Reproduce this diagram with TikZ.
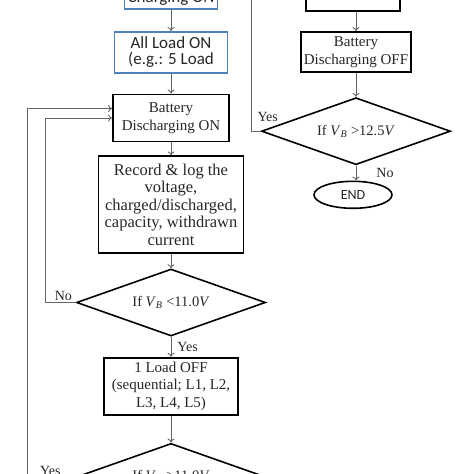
\documentclass[tikz,border=0pt]{standalone}
\usepackage{fontspec}
\setmainfont{Liberation Serif}
\newfontfamily\calfont{Carlito}
\usepackage{tikz}
\usetikzlibrary{shapes.geometric, arrows.meta, positioning, calc}
\definecolor{boxblue}{RGB}{79,129,189}
\definecolor{flgray}{RGB}{100,100,100}
\tikzset{
  sbox/.style={rectangle, draw=boxblue, line width=1.6pt, align=center,
               inner sep=1pt, text=black!85, font=\calfont\fontsize{17}{16}\selectfont},
  tbox/.style={rectangle, draw=black, line width=1.8pt, align=center,
               inner sep=1pt, text=black!85, font=\fontsize{15}{17.5}\selectfont},
  dec/.style={diamond, aspect=2.8, draw=black, line width=1.6pt, minimum width=189pt,
              minimum height=67pt, inner sep=0pt, text=black!85, font=\fontsize{14.5}{17}\selectfont},
  term/.style={ellipse, draw=black, line width=1.6pt, minimum width=78pt,
               minimum height=27pt, inner sep=0pt, text=black!85, font=\calfont\fontsize{14}{16}\selectfont},
  fl/.style={-{To[length=4pt,width=7pt]}, draw=flgray, line width=0.9pt},
  ln/.style={draw=flgray, line width=0.9pt},
  lbl/.style={font=\fontsize{14}{16}\selectfont, text=black!85, inner sep=1pt}
}

\begin{document}
\begin{tikzpicture}[x=1pt, y=-1pt, node distance=20pt]
\useasboundingbox (0,0) rectangle (474,474);
\clip (0,0) rectangle (474,474);
% left column
\node[sbox, anchor=south, minimum width=93pt, text height=30pt, text depth=4pt, inner ysep=3pt] (chg) at (171,10) {Charging ON};
\node[sbox, below=21pt of chg, minimum width=113pt, minimum height=41pt] (all) {All Load ON\\(e.g.: 5 Load};
\node[tbox, below=20pt of all, minimum width=116pt, minimum height=47pt] (bat) {Battery\\Discharging ON};
\node[tbox, below=13pt of bat, minimum width=145pt, minimum height=97pt, font=\fontsize{16.5}{17.5}\selectfont] (rec) {Record \& log the\\voltage,\\charged/discharged,\\capacity, withdrawn\\current};
\node[dec, below=14pt of rec] (vlo) {If \textit{V}\textsubscript{\textit{B}} <11.0\textit{V}};
\node[tbox, below=of vlo, minimum width=134pt, minimum height=57pt] (off) {1 Load OFF\\(sequential; L1, L2,\\L3, L4, L5)};
\node[dec, below=27pt of off] (vhi) {If \textit{V}\textsubscript{\textit{B}} >11.0\textit{V}};
% right column
\node[tbox, minimum width=110pt, minimum height=40pt] (doff) at (356,52) {Battery\\Discharging OFF};
\node[tbox, above=19pt of doff, xshift=-3pt, minimum width=94pt, minimum height=40pt] (rtop) {};
\node[dec, below=24pt of doff] (vend) {If \textit{V}\textsubscript{\textit{B}} >12.5\textit{V}};
\node[term, below=15pt of vend, xshift=-3pt] (fin) {END};
\coordinate (lpin) at (45,0);
\coordinate (lpout) at (27,0);
\coordinate (rpup) at (251,-5);
\draw[fl] (chg) -- (all);
\draw[fl] (all) -- (bat);
\draw[fl] (bat) -- (rec);
\draw[fl] (rec) -- (vlo);
\draw[fl] (vlo) -- node[lbl, right=5pt]{Yes} (off);
\draw[fl] (off) -- (vhi);
\draw[fl] (vlo.west) -- node[lbl, above, pos=0.4]{No} (vlo.west -| lpin) |- (bat.west);
\draw[fl] (vhi.west) -- node[lbl, above, pos=0.52]{Yes} (vhi.west -| lpout) |- ($(bat.west)+(0,-9.5)$);
\draw[fl] ($(rtop.south)+(3,0)$) -- (doff);
\draw[fl] (doff) -- (vend);
\draw[fl] (vend) -- node[lbl, right=19pt]{No} (vend.south |- fin.north);
\draw[ln] (vend.west) -- node[lbl, pos=0, anchor=south, xshift=7pt, yshift=8pt]{Yes} (vend.west -| rpup) -- (rpup);
\end{tikzpicture}
\end{document}
